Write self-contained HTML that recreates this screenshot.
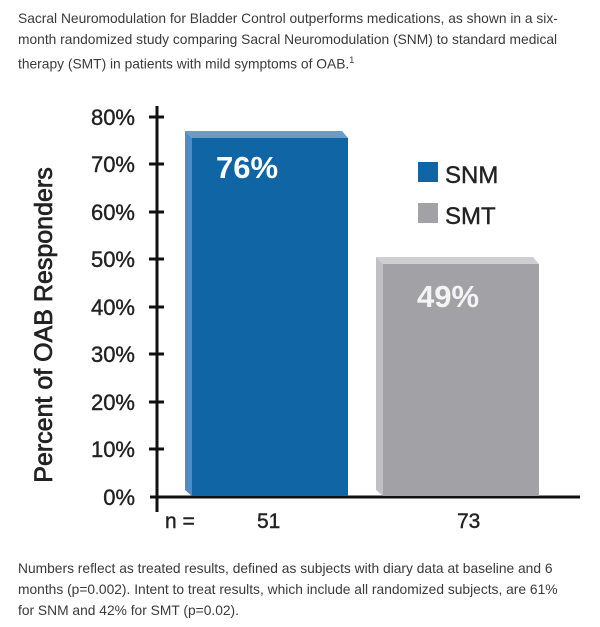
<!DOCTYPE html>
<html><head><style>
body{margin:0;width:600px;height:627px;background:#fff;font-family:"Liberation Sans",sans-serif;position:relative;overflow:hidden}
.p{position:absolute;left:18px;width:590px;font-size:13.8px;line-height:21px;color:#3a3a3a;white-space:nowrap}
</style></head><body>
<div class="p" style="top:8px">Sacral Neuromodulation for Bladder Control outperforms medications, as shown in a six-<br>month randomized study comparing Sacral Neuromodulation (SNM) to standard medical<br>therapy (SMT) in patients with mild symptoms of OAB.<sup style="font-size:9px">1</sup></div>
<svg width="600" height="627" style="position:absolute;left:0;top:0" font-family="Liberation Sans, sans-serif">
<g fill="#222" font-size="22" text-anchor="end" stroke="#222" stroke-width="0.4">
<text x="135" y="125">80%</text><text x="135" y="172">70%</text><text x="135" y="220">60%</text><text x="135" y="267">50%</text><text x="135" y="315">40%</text><text x="135" y="362">30%</text><text x="135" y="410">20%</text><text x="135" y="457">10%</text><text x="135" y="505">0%</text>
</g>
<g stroke="#111" stroke-width="3">
<line x1="157" y1="106" x2="157" y2="512"/>
<line x1="150" y1="497" x2="580" y2="497"/>
<line x1="149" y1="117" x2="164" y2="117"/><line x1="149" y1="164" x2="164" y2="164"/><line x1="149" y1="212" x2="164" y2="212"/><line x1="149" y1="259" x2="164" y2="259"/><line x1="149" y1="307" x2="164" y2="307"/><line x1="149" y1="354" x2="164" y2="354"/><line x1="149" y1="402" x2="164" y2="402"/><line x1="149" y1="449" x2="164" y2="449"/>
</g>
<polygon points="185,131 342,131 348,138 192,138" fill="#6a9cc8"/>
<polygon points="185,131 192,138 192,496 185,490" fill="#4f8cc4"/>
<rect x="192" y="138" width="156" height="358" fill="#1065a4"/>
<polygon points="376,257 533,257 539,264 383,264" fill="#cfcfd2"/>
<polygon points="376,257 383,264 383,496 376,490" fill="#c0c0c3"/>
<rect x="383" y="264" width="156" height="232" fill="#a2a2a6"/>
<text x="216" y="178" font-size="31" font-weight="bold" fill="#fff">76%</text>
<text x="417" y="307" font-size="31" font-weight="bold" fill="#f4f4f4">49%</text>
<rect x="418" y="162" width="20" height="20" fill="#1065a4"/>
<rect x="418" y="203" width="20" height="20" fill="#a2a2a6"/>
<g stroke="#222" stroke-width="0.4" fill="#222">
<text x="445" y="183" font-size="24">SNM</text>
<text x="445" y="224" font-size="24">SMT</text>
<g font-size="21"><text x="165" y="528">n =</text><text x="257" y="528">51</text><text x="457" y="528">73</text></g>
<text transform="translate(52,325) rotate(-90)" text-anchor="middle" font-size="25" stroke-width="0.7">Percent of OAB Responders</text>
</g>
</svg>
<div class="p" style="top:558px">Numbers reflect as treated results, defined as subjects with diary data at baseline and 6<br>months (p=0.002). Intent to treat results, which include all randomized subjects, are 61%<br>for SNM and 42% for SMT (p=0.02).</div>
</body></html>
